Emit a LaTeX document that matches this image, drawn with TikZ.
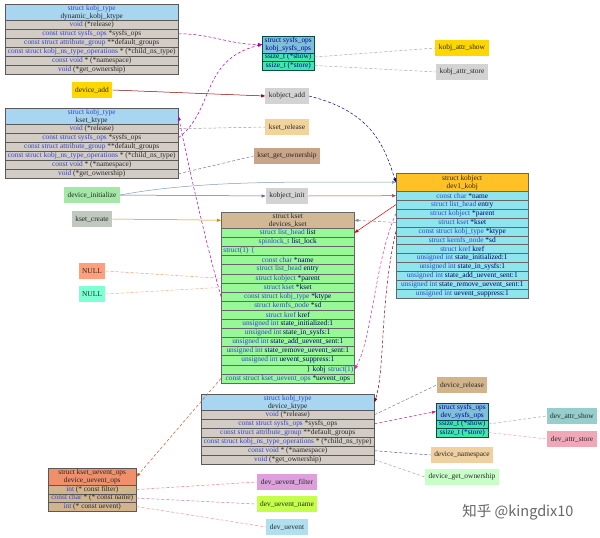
\documentclass[tikz,border=0pt]{standalone}
\usepackage{fontspec}
\setmainfont{Liberation Serif}
\newfontfamily\cjkfont{Noto Sans CJK SC}
\usetikzlibrary{arrows.meta}
\definecolor{kthdc}{HTML}{A8D6F0}
\definecolor{ktrowc}{HTML}{D3CCC5}
\definecolor{opshdc}{HTML}{7EC0D8}
\definecolor{opsrowc}{HTML}{40E8A8}
\definecolor{ksethdc}{HTML}{D2B895}
\definecolor{ksetrowc}{HTML}{98F898}
\definecolor{kobjhdc}{HTML}{FFC125}
\definecolor{kobjrowc}{HTML}{8EE5EE}
\definecolor{uevhdc}{HTML}{F0906A}
\definecolor{uevrowc}{HTML}{D2B48C}
\definecolor{kwc}{HTML}{3344CC}
\definecolor{goldc}{HTML}{FFD700}
\definecolor{lgrayc}{HTML}{D3D3D3}
\definecolor{wheatc}{HTML}{F2D49B}
\definecolor{rtanc}{HTML}{C8A488}
\definecolor{lgreenc}{HTML}{A4E8A8}
\definecolor{ggrayc}{HTML}{C0C8C0}
\definecolor{salmonc}{HTML}{FFA07A}
\definecolor{aquac}{HTML}{7FFFD4}
\definecolor{tanc}{HTML}{D2B48C}
\definecolor{nsc}{HTML}{F0D0A0}
\definecolor{paleg}{HTML}{C8FFC8}
\definecolor{pturq}{HTML}{96CDCD}
\definecolor{pinkc}{HTML}{F0A8B8}
\definecolor{plumc}{HTML}{DDA0DD}
\definecolor{limec}{HTML}{C4FF4A}
\definecolor{lbluec}{HTML}{B0E0F0}
\newcommand\tabfont{\fontsize{7.4}{8}\selectfont}
\newcommand\kw[1]{\textcolor{kwc}{#1}}

\begin{document}
\begin{tikzpicture}[x=1pt,y=-1pt,
  cell/.style={draw=#1, inner sep=0pt, anchor=north west, font=\tabfont, text=black!85},
  ktrow/.style={cell=black!65, fill=ktrowc, minimum width=173pt, minimum height=9pt},
  kthd/.style={ktrow, fill=kthdc, minimum height=16pt, align=center},
  opsrow/.style={cell=teal!60!black, fill=opsrowc, minimum width=52pt, minimum height=8.5pt, text=blue!60!black},
  opshd/.style={opsrow, fill=opshdc, minimum height=16.5pt, align=center},
  ksrow/.style={cell=black!60, fill=ksetrowc, minimum width=133pt, minimum height=9.1pt, text=blue!40!black},
  kshd/.style={ksrow, fill=ksethdc, minimum height=16pt, align=center, text=black!85},
  korow/.style={cell=black!60, fill=kobjrowc, minimum width=132pt, minimum height=8.9pt, text=blue!40!black},
  kohd/.style={korow, fill=kobjhdc, minimum height=18pt, align=center, text=black!85},
  uvrow/.style={cell=black!65, fill=uevrowc, minimum width=88pt, minimum height=8.5pt},
  uvhd/.style={uvrow, fill=uevhdc, minimum height=17pt, align=center},
  fn/.style={fill=#1, inner xsep=3.5pt, minimum height=16pt, font=\tabfont, text=black!85},
  tip/.style={-{Triangle[length=4pt,width=3pt]}},
  dsh/.style={dash pattern=on 3pt off 2pt},
  line width=0.5pt]
\useasboundingbox (0,0) rectangle (600,538);

\node[kthd] (dyn0) at (5,4) {\kw{struct kobj\_type}\\dynamic\_kobj\_ktype};
\node[ktrow] (dyn1) at (5,20) {\kw{void} (*release)};
\node[ktrow] (dyn2) at (5,29) {\kw{const struct sysfs\_ops} *sysfs\_ops};
\node[ktrow] (dyn3) at (5,38) {\kw{const struct attribute\_group} **default\_groups};
\node[ktrow] (dyn4) at (5,47) {\kw{const struct kobj\_ns\_type\_operations} * (*child\_ns\_type)};
\node[ktrow] (dyn5) at (5,56) {\kw{const void} * (*namespace)};
\node[ktrow] (dyn6) at (5,65) {\kw{void} (*get\_ownership)};

\node[opshd] (kops0) at (262,36) {struct sysfs\_ops\\kobj\_sysfs\_ops};
\node[opsrow] (kops1) at (262,52.5) {ssize\_t (*show)};
\node[opsrow] (kops2) at (262,61) {ssize\_t (*store)};

\node[fn=goldc] (kshow) at (462,48) {kobj\_attr\_show};
\node[fn=lgrayc] (kstore) at (462,72) {kobj\_attr\_store};
\node[fn=goldc] (devadd) at (92,90) {device\_add};
\node[fn=lgrayc] (kobjadd) at (287,96) {kobject\_add};

\node[kthd] (kkt0) at (5,108) {\kw{struct kobj\_type}\\kset\_ktype};
\node[ktrow] (kkt1) at (5,124) {\kw{void} (*release)};
\node[ktrow] (kkt2) at (5,133) {\kw{const struct sysfs\_ops} *sysfs\_ops};
\node[ktrow] (kkt3) at (5,142) {\kw{const struct attribute\_group} **default\_groups};
\node[ktrow] (kkt4) at (5,151) {\kw{const struct kobj\_ns\_type\_operations} * (*child\_ns\_type)};
\node[ktrow] (kkt5) at (5,160) {\kw{const void} * (*namespace)};
\node[ktrow] (kkt6) at (5,169) {\kw{void} (*get\_ownership)};

\node[fn=wheatc] (ksrel) at (287,127) {kset\_release};
\node[fn=rtanc] (ksgo) at (287,156) {kset\_get\_ownership};
\node[fn=lgreenc] (devinit) at (92,195) {device\_initialize};
\node[fn=lgrayc] (kobjinit) at (287,196) {kobject\_init};
\node[fn=ggrayc] (kscreate) at (92,219) {kset\_create};

\node[kshd] (kset0) at (221,212) {struct kset\\devices\_kset};
\node[ksrow] (kset1) at (221,228) {\kw{struct list\_head} list};
\node[ksrow] (kset2) at (221,237.1) {\kw{spinlock\_t} list\_lock};
\node[ksrow, text width=131pt, align=left, text=kwc] (kset3) at (221,246.2) {\,struct(1) \{};
\node[ksrow] (kset4) at (221,255.3) {\kw{const char} *name};
\node[ksrow] (kset5) at (221,264.4) {\kw{struct list\_head} entry};
\node[ksrow] (kset6) at (221,273.5) {\kw{struct kobject} *parent};
\node[ksrow] (kset7) at (221,282.6) {\kw{struct kset} *kset};
\node[ksrow] (kset8) at (221,291.7) {\kw{const struct kobj\_type} *ktype};
\node[ksrow] (kset9) at (221,300.8) {\kw{struct kernfs\_node} *sd};
\node[ksrow] (kset10) at (221,309.9) {\kw{struct kref} kref};
\node[ksrow] (kset11) at (221,319) {\kw{unsigned int} state\_initialized:1};
\node[ksrow] (kset12) at (221,328.1) {\kw{unsigned int} state\_in\_sysfs:1};
\node[ksrow] (kset13) at (221,337.2) {\kw{unsigned int} state\_add\_uevent\_sent:1};
\node[ksrow] (kset14) at (221,346.3) {\kw{unsigned int} state\_remove\_uevent\_sent:1};
\node[ksrow] (kset15) at (221,355.4) {\kw{unsigned int} uevent\_suppress:1};
\node[ksrow, text width=131pt, align=right] (kset16) at (221,364.5) {\} kobj \kw{struct(1)}};
\node[ksrow] (kset17) at (221,373.6) {\kw{const struct kset\_uevent\_ops} *uevent\_ops};

\node[kohd] (kobj0) at (396,173) {struct kobject\\dev1\_kobj};
\node[korow] (kobj1) at (396,191) {\kw{const char} *name};
\node[korow] (kobj2) at (396,199.9) {\kw{struct list\_head} entry};
\node[korow] (kobj3) at (396,208.8) {\kw{struct kobject} *parent};
\node[korow] (kobj4) at (396,217.7) {\kw{struct kset} *kset};
\node[korow] (kobj5) at (396,226.6) {\kw{const struct kobj\_type} *ktype};
\node[korow] (kobj6) at (396,235.5) {\kw{struct kernfs\_node} *sd};
\node[korow] (kobj7) at (396,244.4) {\kw{struct kref} kref};
\node[korow] (kobj8) at (396,253.3) {\kw{unsigned int} state\_initialized:1};
\node[korow] (kobj9) at (396,262.2) {\kw{unsigned int} state\_in\_sysfs:1};
\node[korow] (kobj10) at (396,271.1) {\kw{unsigned int} state\_add\_uevent\_sent:1};
\node[korow] (kobj11) at (396,280) {\kw{unsigned int} state\_remove\_uevent\_sent:1};
\node[korow] (kobj12) at (396,288.9) {\kw{unsigned int} uevent\_suppress:1};

\node[fn=salmonc] (null1) at (92,271) {NULL};
\node[fn=aquac] (null2) at (92,294) {NULL};

\node[fn=tanc] (devrel) at (462,385) {device\_release};
\node[kthd] (dkt0) at (201,394) {\kw{struct kobj\_type}\\device\_ktype};
\node[ktrow] (dkt1) at (201,410) {\kw{void} (*release)};
\node[ktrow] (dkt2) at (201,419) {\kw{const struct sysfs\_ops} *sysfs\_ops};
\node[ktrow] (dkt3) at (201,428) {\kw{const struct attribute\_group} **default\_groups};
\node[ktrow] (dkt4) at (201,437) {\kw{const struct kobj\_ns\_type\_operations} * (*child\_ns\_type)};
\node[ktrow] (dkt5) at (201,446) {\kw{const void} * (*namespace)};
\node[ktrow] (dkt6) at (201,455) {\kw{void} (*get\_ownership)};

\node[opshd] (dops0) at (436,403) {struct sysfs\_ops\\dev\_sysfs\_ops};
\node[opsrow] (dops1) at (436,419.5) {ssize\_t (*show)};
\node[opsrow] (dops2) at (436,428) {ssize\_t (*store)};
\node[fn=pturq] (dshow) at (572,416) {dev\_attr\_show};
\node[fn=pinkc] (dstore) at (572,439) {dev\_attr\_store};
\node[fn=nsc] (devns) at (462,455) {device\_namespace};
\node[fn=paleg] (devgo) at (462,477) {device\_get\_ownership};

\node[uvhd] (uev0) at (48,468) {struct kset\_uevent\_ops\\device\_uevent\_ops};
\node[uvrow] (uev1) at (48,485) {\kw{int} (* const filter)};
\node[uvrow] (uev2) at (48,493.5) {\kw{const char} * (* const name)};
\node[uvrow] (uev3) at (48,502) {\kw{int} (* const uevent)};
\node[fn=plumc] (ufilter) at (287,482) {dev\_uevent\_filter};
\node[fn=limec] (uname) at (287,504) {dev\_uevent\_name};
\node[fn=lbluec] (uevent) at (287,527) {dev\_uevent};

\node[font=\cjkfont\fontsize{14.5}{16}\selectfont, text=black!60] (mark) at (518,512) {知乎 @kingdix10};

\draw[tip, dsh, violet!70!magenta] (dyn2.east) to[out=0,in=180] (kops0.west);
\draw[tip, dsh, violet!60!magenta] (kkt2.east) .. controls (215,110) and (200,60) .. (kops0.west);
\draw[dsh, black!35] (kops1.east) -- (kshow.west);
\draw[dsh, black!35] (kops2.east) -- (kstore.west);
\draw[tip, red!55!black] (devadd.east) -- (kobjadd.west);
\draw[tip, dsh, blue!55!black] (kobjadd.east) .. controls (375,112) and (385,150) .. (kobj0.west);
\draw[dsh, black!40] (kkt1.east) -- (ksrel.west);
\draw[dsh, cyan!40!blue!50!gray] (kkt6.east) -- (ksgo.west);
\draw[tip, cyan!30!gray] (devinit.east) .. controls (200,180) and (300,182) .. (kobj0.west);
\draw[tip, blue!20!gray] (devinit.east) -- (kobjinit.west);
\draw[tip, red!50!gray] (kobjinit.east) -- (kobj1.west);
\draw[tip, orange!60!yellow!80!black] (kscreate.east) -- (kset0.west);
\draw[tip, red!85!black] (kobj2.west) -- (kset1.east);
\draw[tip, dsh, black!45] (kobj4.west) -- (kset0.east);
\draw[tip, dsh, magenta!80!pink] (kobj3.west) .. controls (375,260) and (372,340) .. (kset16.east);
\draw[dsh, orange!60!red!60!white] (null1.east) -- (kset6.west);
\draw[dsh, red!40!orange!50!white] (null2.east) -- (kset7.west);
\draw[tip, dsh, violet!60!magenta] (kset8.west) .. controls (205,240) and (185,150) .. (kkt0.east);
\draw[tip, dsh, brown!70!red] (kset17.west) -- (uev0.east);
\draw[tip, dsh, red!55!black] (kobj5.west) .. controls (380,300) and (385,370) .. (dkt0.east);
\draw[dsh, black!50] (dkt1.east) -- (devrel.west);
\draw[tip, dsh, magenta!75!violet] (dkt2.east) -- (dops0.west);
\draw[dsh, blue!40!gray] (dkt5.east) -- (devns.west);
\draw[dsh, black!35] (dkt6.east) -- (devgo.west);
\draw[dsh, black!35] (dops1.east) -- (dshow.west);
\draw[dsh, red!30!pink!80!white] (dops2.east) -- (dstore.west);
\draw[dsh, red!40!pink] (uev1.east) -- (ufilter.west);
\draw[dsh, violet!40!pink] (uev2.east) -- (uname.west);
\draw[dsh, red!25!pink] (uev3.east) -- (uevent.west);
\end{tikzpicture}
\end{document}
